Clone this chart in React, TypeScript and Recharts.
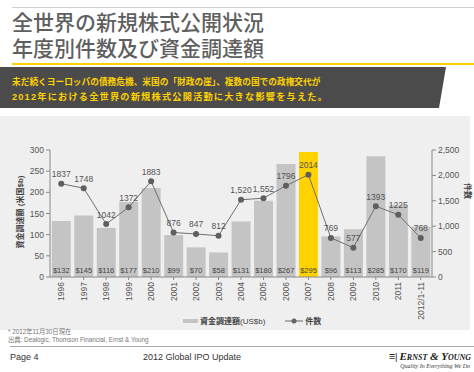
import React from 'react';
import {
  ComposedChart, Bar, Line, XAxis, YAxis, Cell, LabelList, Legend,
} from 'recharts';

const years = ['1996', '1997', '1998', '1999', '2000', '2001', '2002', '2003', '2004', '2005', '2006', '2007', '2008', '2009', '2010', '2011', '2012/1-11'];
const proceeds = [132, 145, 116, 177, 210, 99, 70, 58, 131, 180, 267, 295, 96, 113, 285, 170, 119];
const deals = [1837, 1748, 1042, 1372, 1883, 876, 847, 812, 1520, 1552, 1796, 2014, 769, 577, 1393, 1225, 768];
const dealLabels = ['1837', '1748', '1042', '1372', '1883', '876', '847', '812', '1,520', '1,552', '1796', '2014', '769', '577', '1393', '1225', '768'];
const leftTicks = [0, 50, 100, 150, 200, 250, 300];
const rightTicks = [0, 500, 1000, 1500, 2000, 2500];
const highlightYear = '2007';

const data = years.map((y, i) => ({
  year: y,
  proceeds: proceeds[i],
  proceedsLabel: '$' + proceeds[i],
  deals: deals[i],
  dealLabel: dealLabels[i],
}));

const FONT = "'Liberation Sans', Arial, 'Noto Sans CJK JP', sans-serif";
const YELLOW = '#ffd200';
const BAR = '#c4c4c4';

const XTick = (props: any) => {
  const { x, y, payload } = props;
  return (
    <text x={x} y={y} transform={`rotate(-90 ${x} ${y})`} textAnchor="end" dy={3} fontSize={8.5} fill="#555" fontFamily={FONT}>
      {payload.value}
    </text>
  );
};

const fmt = (v: number) => v.toLocaleString('en-US');

const BarLabel = (props: any) => {
  const { x, y, width, height, value } = props;
  return (
    <text x={x + width / 2} y={y + height - 4} textAnchor="middle" fontSize={7.5} fill="#444" fontFamily={FONT}>
      {value}
    </text>
  );
};

const LineLabel = (props: any) => {
  const { x, y, value } = props;
  return (
    <text x={x} y={y - 6.5} textAnchor="middle" fontSize={8.5} fill="#555" fontFamily={FONT}>
      {value}
    </text>
  );
};

const LegendContent = () => (
  <div style={{ display: 'flex', alignItems: 'center', height: 13, paddingLeft: 183, fontSize: 8, color: '#444', fontFamily: FONT }}>
    <svg width={15} height={6}><rect x={0} y={1} width={15} height={4} fill={BAR} /></svg>
    <span style={{ marginLeft: 2, fontWeight: 'bold' }}>資金調達額<span style={{ fontWeight: 'normal' }}>(US$b)</span></span>
    <svg width={18} height={8} style={{ marginLeft: 20 }}>
      <line x1={0} y1={4} x2={18} y2={4} stroke="#666" strokeWidth={1} />
      <circle cx={9} cy={4} r={2.5} fill="#666" />
    </svg>
    <span style={{ marginLeft: 2, fontWeight: 'bold' }}>件数</span>
  </div>
);

const titleLine = (top: number): React.CSSProperties => ({
  position: 'absolute', top, left: 12, fontFamily: FONT, fontSize: 21, lineHeight: '24px',
  color: '#5f5f5f', fontWeight: 500, whiteSpace: 'nowrap',
});

export default function App() {
  return (
    <div style={{ position: 'absolute', left: 0, top: 0, width: 474, height: 372, background: '#fff', overflow: 'hidden', fontFamily: FONT }}>
      <div style={{ position: 'absolute', top: 7, left: 12, right: 0, height: 1, background: '#cfcfcf' }} />
      <div style={titleLine(11)}>全世界の新規株式公開状況</div>
      <div style={titleLine(37)}>年度別件数及び資金調達額</div>
      <div style={{ position: 'absolute', top: 63, left: 12, right: 0, height: 2, background: YELLOW }} />
      <div style={{ position: 'absolute', top: 67, left: 0, width: 446, height: 41, background: '#4b4b4b', clipPath: 'polygon(0 0, 100% 0, calc(100% - 7px) 100%, 0 100%)' }} />
      <div style={{ position: 'absolute', top: 75, left: 12, fontFamily: FONT, fontSize: 8.7, lineHeight: '14.5px', color: YELLOW, fontWeight: 'bold', whiteSpace: 'nowrap' }}>
        <div>未だ続くヨーロッパの債務危機、米国の「財政の崖」、複数の国での政権交代が</div>
        <div style={{ fontSize: 9.2, letterSpacing: '1.2px' }}>2012年における全世界の新規株式公開活動に大きな影響を与えた。</div>
      </div>

      <div style={{ position: 'absolute', top: 116, left: 0, width: 470, height: 214, background: '#efefef' }} />
      <div style={{ position: 'absolute', top: 116, left: 0 }}>
        <ComposedChart width={474} height={214} data={data} margin={{ top: 34, right: 0, left: 0, bottom: 3 }} barCategoryGap="8%">
          <XAxis dataKey="year" interval={0} height={37} tick={<XTick />} axisLine={{ stroke: '#888' }} tickLine={{ stroke: '#888' }} tickSize={3} />
          <YAxis
            yAxisId="left"
            orientation="left"
            width={50}
            domain={[0, 300]}
            ticks={leftTicks}
            interval={0}
            tick={{ fontSize: 8.5, fill: '#555', fontFamily: FONT }}
            axisLine={{ stroke: '#888' }}
            tickLine={{ stroke: '#888' }}
            tickSize={4}
            label={{
              content: () => (
                <text x={20} y={96} transform="rotate(-90 20 96)" textAnchor="middle" dy={3} fontSize={8} fontWeight="bold" fill="#444" fontFamily={FONT}>
                  資金調達額 (米国$b)
                </text>
              ),
            }}
          />
          <YAxis
            yAxisId="right"
            orientation="right"
            width={42}
            domain={[0, 2500]}
            ticks={rightTicks}
            interval={0}
            tickFormatter={fmt}
            tick={{ fontSize: 8.5, fill: '#555', fontFamily: FONT, textAnchor: 'start' }}
            axisLine={{ stroke: '#888' }}
            tickLine={{ stroke: '#888' }}
            tickSize={4}
            label={{
              content: () => (
                <text x={468} y={75} transform="rotate(90 468 75)" textAnchor="middle" dy={3} fontSize={8} fontWeight="bold" fill="#444" fontFamily={FONT}>
                  件数
                </text>
              ),
            }}
          />
          <Legend verticalAlign="bottom" align="left" height={13} content={<LegendContent />} />
          <Bar yAxisId="left" dataKey="proceeds" isAnimationActive={false}>
            {data.map((d) => (
              <Cell key={d.year} fill={d.year === highlightYear ? YELLOW : BAR} />
            ))}
            <LabelList dataKey="proceedsLabel" content={<BarLabel />} />
          </Bar>
          <Line
            yAxisId="right"
            dataKey="deals"
            stroke="#707070"
            strokeWidth={1}
            dot={{ r: 3, fill: '#5e5e5e', stroke: '#5e5e5e', strokeWidth: 0 }}
            activeDot={false}
            isAnimationActive={false}
          >
            <LabelList dataKey="dealLabel" content={<LineLabel />} />
          </Line>
        </ComposedChart>
      </div>

      <div style={{ position: 'absolute', top: 328, left: 8, fontSize: 6.3, lineHeight: '7.5px', color: '#777', fontFamily: FONT, whiteSpace: 'nowrap' }}>
        <div>* 2012年11月30日現在</div>
        <div>出典: Dealogic, Thomson Financial, Ernst &amp; Young</div>
      </div>
      <div style={{ position: 'absolute', top: 346, left: 10, right: 0, height: 1, background: '#aaa' }} />
      <div style={{ position: 'absolute', top: 352, left: 10, fontSize: 9, color: '#333', fontFamily: FONT }}>Page 4</div>
      <div style={{ position: 'absolute', top: 352, left: 143, fontSize: 9, color: '#333', fontFamily: FONT }}>2012 Global IPO Update</div>
      <div style={{ position: 'absolute', top: 350, right: 3, fontSize: 11, color: '#222', fontFamily: "'Liberation Serif', serif", fontStyle: 'italic', fontWeight: 'bold', fontVariant: 'small-caps', whiteSpace: 'nowrap' }}>
        <span style={{ fontStyle: 'normal', marginRight: 2 }}>≡|</span>Ernst &amp; Young
      </div>
      <div style={{ position: 'absolute', top: 363, right: 4, fontSize: 6, color: '#333', fontFamily: "'Liberation Serif', serif", fontStyle: 'italic', whiteSpace: 'nowrap' }}>
        Quality In Everything We Do
      </div>
    </div>
  );
}
